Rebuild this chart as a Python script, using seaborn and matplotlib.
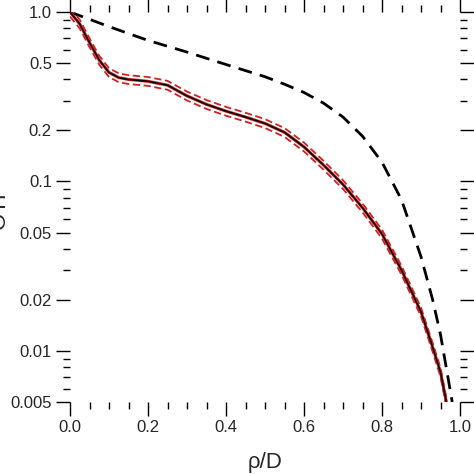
import numpy as np
import matplotlib
matplotlib.use("Agg")
import matplotlib.pyplot as plt
import seaborn as sns
from matplotlib.ticker import FixedLocator, LogLocator, NullFormatter

sns.set_style("white")
plt.rcParams['font.family'] = ['Liberation Sans', 'DejaVu Sans']

x_diff = [0.0, 0.1, 0.2, 0.3, 0.4, 0.5, 0.55, 0.6, 0.65, 0.7, 0.75, 0.8, 0.85, 0.9, 0.93, 0.95, 0.97, 0.98]
y_diff = [1.0, 0.82, 0.68, 0.58, 0.49, 0.415, 0.375, 0.335, 0.29, 0.24, 0.185, 0.13, 0.078, 0.036, 0.02, 0.0125, 0.0068, 0.005]

x_obs = [0.0, 0.025, 0.05, 0.075, 0.1, 0.125, 0.15, 0.2, 0.25, 0.3, 0.35, 0.4, 0.45, 0.5, 0.55, 0.6, 0.65, 0.7, 0.75, 0.8, 0.85, 0.9, 0.93, 0.95, 0.965]
y_obs = [1.0, 0.85, 0.66, 0.52, 0.44, 0.41, 0.40, 0.39, 0.37, 0.32, 0.285, 0.26, 0.24, 0.22, 0.195, 0.16, 0.125, 0.096, 0.07, 0.049, 0.03, 0.017, 0.0105, 0.0075, 0.005]
rel_err = 0.06

fig = plt.figure(figsize=(4.74, 4.74), dpi=100)
ax = fig.add_axes([70/474, 72/474, 390/474, 390/474])

sns.lineplot(x=x_diff, y=y_diff, ax=ax, color='black', lw=2, linestyle=(0, (5, 3)))
sns.lineplot(x=x_obs, y=np.array(y_obs) * (1 + rel_err), ax=ax, color='#d42020', lw=1.3, linestyle=(0, (4, 2)))
sns.lineplot(x=x_obs, y=np.array(y_obs) * (1 - rel_err), ax=ax, color='#d42020', lw=1.3, linestyle=(0, (4, 2)))
sns.lineplot(x=x_obs, y=y_obs, ax=ax, color='#d42020', lw=2.2)
sns.lineplot(x=x_obs, y=y_obs, ax=ax, color='black', lw=1.1)

ax.set_yscale('log')
ax.set_xlim(0, 1)
ax.set_ylim(0.005, 1.0)
yt = [0.005, 0.01, 0.02, 0.05, 0.1, 0.2, 0.5, 1.0]
ax.set_yticks(yt)
ax.set_yticklabels(['0.005', '0.01', '0.02', '0.05', '0.1', '0.2', '0.5', '1.0'])
ax.yaxis.set_minor_locator(LogLocator(subs=np.arange(2, 10)))
ax.yaxis.set_minor_formatter(NullFormatter())
ax.set_xticks([0, 0.2, 0.4, 0.6, 0.8, 1.0])
ax.set_xticklabels(['0.0', '0.2', '0.4', '0.6', '0.8', '1.0'])
ax.xaxis.set_minor_locator(FixedLocator(np.arange(0.05, 1.0, 0.05)))
for s in ax.spines.values():
    s.set_visible(False)
ax.tick_params(which='both', direction='out', top=True, right=True, left=True, bottom=True,
               color='black', width=1)
ax.tick_params(which='major', length=10, labelsize=12, pad=3)
ax.tick_params(which='minor', length=5)
ax.set_xlabel('ρ/D', fontsize=16, labelpad=12)
ax.set_ylabel('OTF', fontsize=16, labelpad=0)
fig.savefig('out.png', dpi=100)
